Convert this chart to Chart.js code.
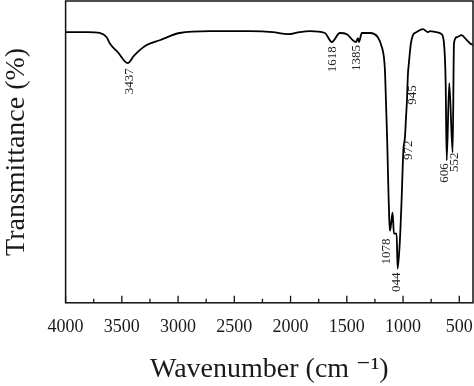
<!DOCTYPE html>
<html>
<head>
<meta charset="utf-8">
<script src="https://cdn.jsdelivr.net/npm/chart.js@4.4.0/dist/chart.umd.min.js"></script>
<style>
  html, body { margin: 0; padding: 0; background: #fff; }
  #wrap { width: 474px; height: 386px; }
</style>
</head>
<body>
<div id="wrap"><canvas id="grafico"></canvas></div>
<script>
// spectrum (wavenumber, transmittance in arbitrary %)
const wavenumbers = [4000, 3804, 3697, 3635, 3608, 3537, 3448, 3395, 3341, 3279, 3163, 2986, 2719, 2363, 2158, 2024, 1918, 1829, 1695, 1633, 1562, 1499, 1446, 1419, 1401, 1393, 1366, 1295, 1224, 1188, 1170, 1161, 1152, 1141, 1130, 1123, 1117, 1108, 1093, 1081, 1057, 1048, 1028, 1013, 997, 983, 974, 965, 957, 948, 930, 912, 879, 823, 779, 761, 708, 657, 636, 621, 612, 589, 559, 547, 523, 479, 449, 405, 378];
const transmitancia = [89.7, 89.7, 89.4, 88.0, 86.0, 83.1, 79.4, 81.7, 83.7, 85.4, 87.0, 89.4, 90.0, 90.0, 89.7, 89.0, 89.7, 90.0, 89.4, 86.4, 89.4, 89.0, 87.0, 86.4, 87.7, 86.4, 89.4, 89.4, 88.0, 84.7, 81.4, 77.1, 67.1, 53.8, 37.2, 28.2, 23.9, 25.6, 29.9, 22.9, 22.9, 11.3, 20.6, 33.9, 50.5, 54.8, 61.1, 67.1, 75.4, 79.4, 86.0, 88.7, 89.7, 90.7, 89.7, 90.0, 89.7, 89.0, 86.0, 72.8, 47.2, 72.8, 49.8, 86.0, 88.0, 88.7, 87.7, 86.0, 85.4];

// peak labels (text, anchor wavenumber, anchor transmittance = top end of the rotated text)
const picos_texto = ['3437', '1618', '1385', '945', '972', '1078', '044', '606', '552'];
const picos_wn = [3430, 1624, 1410, 912, 948, 1143, 1054, 627, 538];
const picos_t = [77.7, 85.0, 85.4, 72.1, 53.8, 21.3, 10.0, 46.2, 49.8];

const ticks_x = [4000, 3500, 3000, 2500, 2000, 1500, 1000, 500];

const serif = "'Liberation Serif', 'DejaVu Serif', serif";

const pontos = wavenumbers.map((w, i) => ({ x: w, y: transmitancia[i] }));

// frame, inward ticks and rotated peak labels
const moldura = {
    id: 'moldura',
    afterDraw(chart) {
        const ctx = chart.ctx;
        const area = chart.chartArea;
        const sx = chart.scales.x;
        const sy = chart.scales.y;
        ctx.save();
        ctx.strokeStyle = '#111';
        ctx.lineWidth = 1.5;
        ctx.strokeRect(area.left, area.top, area.right - area.left, area.bottom - area.top);

        ctx.lineWidth = 1.3;
        for (let v = 500; v <= 4000; v += 250) {
            const px = sx.getPixelForValue(v);
            const len = (v % 500 === 0) ? 7 : 4;
            ctx.beginPath();
            ctx.moveTo(px, area.bottom);
            ctx.lineTo(px, area.bottom - len);
            ctx.stroke();
        }

        ctx.fillStyle = '#222';
        ctx.font = '13px ' + serif;
        ctx.textAlign = 'right';
        ctx.textBaseline = 'middle';
        for (let i = 0; i < picos_texto.length; i++) {
            const px = sx.getPixelForValue(picos_wn[i]);
            const py = sy.getPixelForValue(picos_t[i]);
            ctx.save();
            ctx.translate(px, py);
            ctx.rotate(-Math.PI / 2);
            ctx.fillText(picos_texto[i], 0, 0);
            ctx.restore();
        }
        ctx.restore();
    }
};

const config_espectro = {
    type: 'line',
    data: {
        datasets: [{
            label: 'FTIR',
            data: pontos,
            borderColor: '#000',
            borderWidth: 1.8,
            pointRadius: 0,
            fill: false,
            tension: 0,
            cubicInterpolationMode: 'monotone'
        }]
    },
    options: {
        responsive: true,
        maintainAspectRatio: false,
        animation: false,
        layout: { padding: { top: 1, right: 1, left: 0, bottom: 0 } },
        scales: {
            x: {
                type: 'linear',
                reverse: true,
                min: 378,
                max: 4000,
                afterBuildTicks: (scale) => {
                    scale.ticks = ticks_x.map(v => ({ value: v }));
                },
                afterFit: (scale) => {
                    scale.paddingLeft = 0;
                    scale.paddingRight = 0;
                },
                grid: { display: false, drawTicks: false },
                border: { display: false },
                ticks: {
                    padding: 14,
                    maxRotation: 0,
                    autoSkip: false,
                    color: '#1a1a1a',
                    font: { size: 18, family: serif },
                    callback: (v) => String(v)
                },
                title: {
                    display: true,
                    text: 'Wavenumber (cm \u207B\u00B9)',
                    color: '#1a1a1a',
                    font: { size: 28, family: serif },
                    padding: { top: 0, bottom: 0 }
                }
            },
            y: {
                min: 0,
                max: 100,
                grid: { display: false, drawTicks: false },
                border: { display: false },
                ticks: { display: false },
                title: {
                    display: true,
                    text: 'Transmittance (%)',
                    color: '#1a1a1a',
                    font: { size: 28, family: serif },
                    padding: { top: 0, bottom: 32 }
                }
            }
        },
        plugins: {
            legend: { display: false },
            tooltip: { enabled: false }
        }
    },
    plugins: [moldura]
};

const grafico_espectro = new Chart(document.getElementById('grafico'), config_espectro);
</script>
</body>
</html>
